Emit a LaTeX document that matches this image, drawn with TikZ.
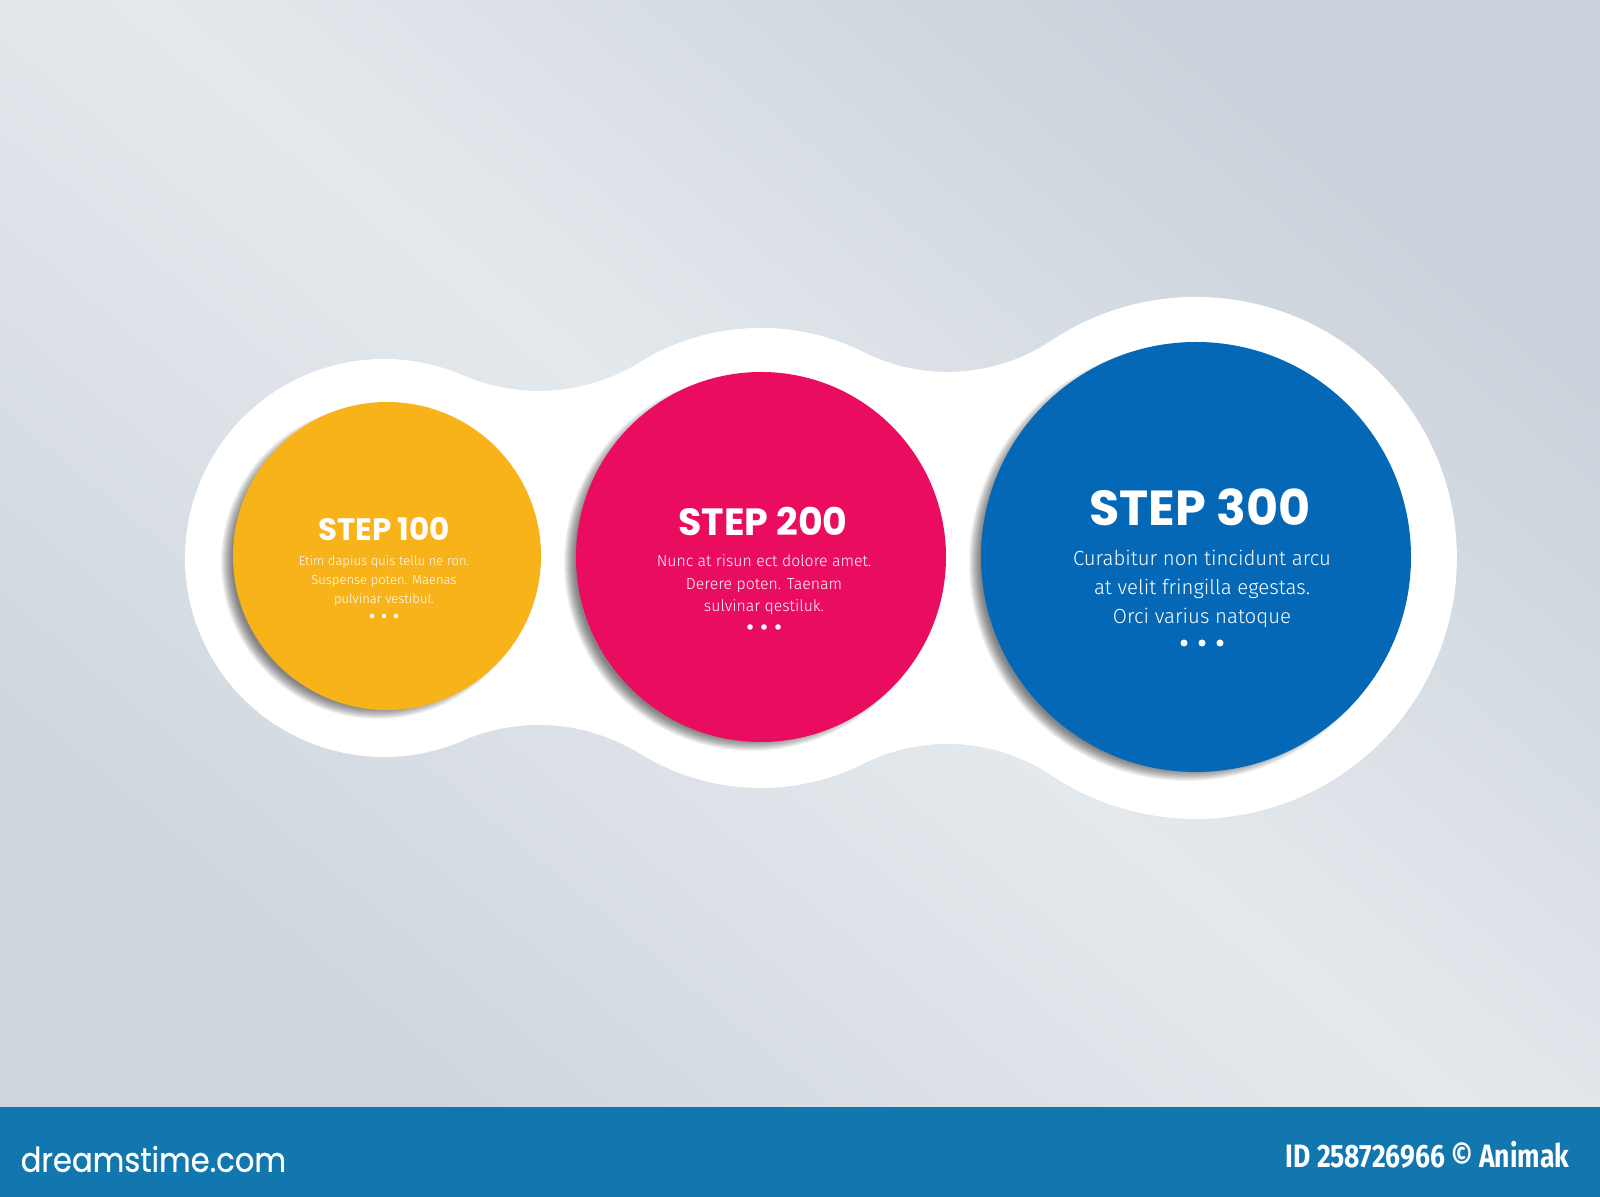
\documentclass[tikz,border=0pt]{standalone}
\usepackage{fontspec}
\usepackage{graphicx}
\usetikzlibrary{shadings}
\newfontfamily\headfont{Poppins}
\newfontfamily\brandfont{Poppins}[FakeBold=0.6]
\newfontfamily\bodyfont{Fira Sans Light}
\newfontfamily\barfont{Fira Sans}
\definecolor{bgDarkTR}{HTML}{C9D1DA}
\definecolor{bgDarkBL}{HTML}{CFD6DE}
\definecolor{bgLight}{HTML}{E4E9ED}
\definecolor{baryblue}{HTML}{1277AF}
\definecolor{stepyellow}{HTML}{F8B31A}
\definecolor{steppink}{HTML}{E90C5F}
\definecolor{stepblue}{HTML}{0468B6}
\newcommand\shadowdisc[4]{%
  \foreach \k in {1,...,12}{\fill[black,opacity=0.05] (#1-9,#2-6) circle[radius=#3+4-\k];}
  \fill[#4] (#1,#2) circle[radius=#3];}
\tikzset{
  headtext/.style={text=white, inner sep=0pt, anchor=center},
  bodytext/.style={text=white, inner sep=0pt, anchor=center, align=center},
}
\begin{document}
\begin{tikzpicture}[x=0.01cm,y=0.01cm]
\useasboundingbox (0,0) rectangle (1600,1197);
% background
\shade[top color=bgDarkTR, bottom color=bgDarkBL, middle color=bgLight, shading angle=-40] (0,90) rectangle (1600,1197);
\fill[baryblue] (0,0) rectangle (1600,90);
% white blob
\fill[white] ([shift={(293.3:199)}]384,639)
  arc[start angle=293.3, end angle=66.7, radius=199]
  arc[start angle=246.7, end angle=301.7, radius=192.5]
  arc[start angle=121.7, end angle=63.46, radius=230]
  arc[start angle=243.46, end angle=303.6, radius=187.8]
  arc[start angle=123.6, end angle=-123.6, radius=261]
  arc[start angle=56.4, end angle=116.54, radius=187.8]
  arc[start angle=-63.46, end angle=-121.7, radius=230]
  arc[start angle=58.3, end angle=113.3, radius=192.5]
  -- cycle;
% discs
\shadowdisc{387}{641}{154}{stepyellow}
\shadowdisc{761}{640}{185}{steppink}
\shadowdisc{1196}{640}{215}{stepblue}
% step 100
\node[headtext, font=\headfont\bfseries\fontsize{8.8}{10}\selectfont] (t1) at (384,668) {STEP 100};
\node[bodytext, font=\bodyfont\fontsize{3.7}{5.4}\selectfont] (b1) at (384,616) {Etim dapius quis tellu ne ron.\\Suspense poten. Maenas\\pulvinar vestibul.};
\foreach \x in {372,384,396} \fill[white] (\x,581) circle[radius=2.2];
% step 200
\node[headtext, font=\headfont\bfseries\fontsize{10.8}{12}\selectfont] (t2) at (763,676) {STEP 200};
\node[bodytext, font=\bodyfont\fontsize{4.5}{6.4}\selectfont] (b2) at (764,612) {Nunc at risun ect dolore amet.\\Derere poten. Taenam\\sulvinar qestiluk.};
\foreach \x in {750,764,778} \fill[white] (\x,570) circle[radius=2.8];
% step 300
\node[headtext, font=\headfont\bfseries\fontsize{14}{15}\selectfont] (t3) at (1200,690) {STEP 300};
\node[bodytext, font=\bodyfont\fontsize{5.8}{8.25}\selectfont] (b3) at (1202,608) {Curabitur non tincidunt arcu\\at velit fringilla egestas.\\Orci varius natoque};
\foreach \x in {1184,1202,1220} \fill[white] (\x,554) circle[radius=3.5];
% bottom bar texts
\node[anchor=west, text=white, inner sep=0pt, font=\brandfont\fontsize{9.7}{12}\selectfont] (brand) at (20,38) {\scalebox{0.9}[1]{dreamstime.com}};
\node[anchor=east, text=white, inner sep=0pt, font=\barfont\bfseries\fontsize{9.2}{11}\selectfont] (credit) at (1570,42) {\scalebox{0.82}[1]{ID 258726966 © Animak}};
\end{tikzpicture}
\end{document}
